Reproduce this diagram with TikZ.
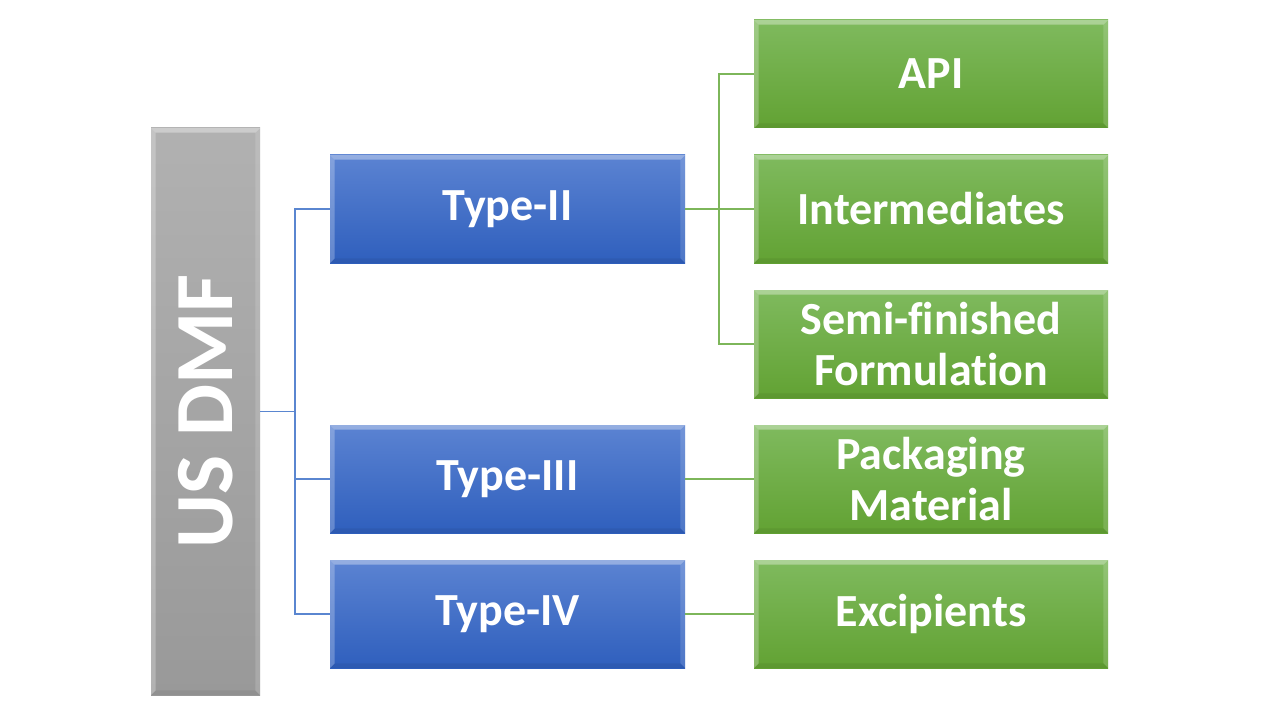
\documentclass[tikz,border=0pt]{standalone}
\usepackage{fontspec}
\newfontfamily\calfont{Carlito}[Ligatures={NoCommon,NoRare,NoContextual}]
\newcommand{\brk}{\kern0pt }
\begin{document}
\begin{tikzpicture}[x=0.75pt,y=-0.75pt,
  bevel/.style={path picture={
    \fill[white,opacity=0.35] (path picture bounding box.north west) -- (path picture bounding box.north east)
      -- ([shift={(-3.5pt,-3.5pt)}]path picture bounding box.north east) -- ([shift={(3.5pt,-3.5pt)}]path picture bounding box.north west) -- cycle;
    \fill[white,opacity=0.25] (path picture bounding box.north west) -- ([shift={(3.5pt,-3.5pt)}]path picture bounding box.north west)
      -- ([shift={(3.5pt,3.5pt)}]path picture bounding box.south west) -- (path picture bounding box.south west) -- cycle;
    \fill[white,opacity=0.15] (path picture bounding box.north east) -- ([shift={(-3.5pt,-3.5pt)}]path picture bounding box.north east)
      -- ([shift={(-3.5pt,3.5pt)}]path picture bounding box.south east) -- (path picture bounding box.south east) -- cycle;
    \fill[black,opacity=0.06] (path picture bounding box.south west) -- (path picture bounding box.south east)
      -- ([shift={(-3.5pt,3.5pt)}]path picture bounding box.south east) -- ([shift={(3.5pt,3.5pt)}]path picture bounding box.south west) -- cycle;
  }},
  boxbase/.style={rectangle, inner sep=0pt, text=white, align=center, bevel,
    font=\calfont\bfseries\fontsize{34.5}{38.5}\selectfont},
  bluebox/.style={boxbase, minimum width=266.25pt, minimum height=81pt,
    top color=bluetop, bottom color=bluebot},
  greenbox/.style={boxbase, minimum width=265.5pt, minimum height=81pt,
    top color=greentop, bottom color=greenbot},
  graybox/.style={boxbase, minimum width=81.75pt, minimum height=425.25pt,
    top color=graytop, bottom color=graybot},
  blueline/.style={draw=blueln, line width=1pt},
  greenline/.style={draw=greenln, line width=1pt}
]
\definecolor{bluetop}{HTML}{5B83D2}
\definecolor{bluebot}{HTML}{2F5FBD}
\definecolor{greentop}{HTML}{7FBA5E}
\definecolor{greenbot}{HTML}{62A233}
\definecolor{graytop}{HTML}{B1B1B1}
\definecolor{graybot}{HTML}{999999}
\definecolor{blueln}{HTML}{5A86D0}
\definecolor{greenln}{HTML}{7DB65A}
\useasboundingbox[fill=white] (0,0) rectangle (1280,720);

\node[graybox] (dmf) at (205.5,411.5) {};
\node[rotate=90, text=white, font=\calfont\bfseries\fontsize{62}{70}\selectfont, inner sep=0pt] (dmflabel) at (205.5,411.5) {US DMF};

\node[bluebox] (t2) at (507.5,209) {Type-II};
\node[bluebox] (t3) at (507.5,479) {Type-III};
\node[bluebox] (t4) at (507.5,614) {Type-IV};

\node[greenbox] (api) at (931,74) {API};
\node[greenbox] (int) at (931,209) {Intermediates};
\node[greenbox] (semi) at (931,344) {Semi-f\brk i\brk nished\\Formulat\brk ion};
\node[greenbox] (pack) at (931,479) {Packaging\\Material};
\node[greenbox] (exc) at (931,614) {Excipients};

\coordinate (j1) at (295,411.5);
\coordinate (j2) at (719,209);
\draw[blueline] (dmf.east) -- (j1);
\draw[blueline] (j1) |- (t2.west);
\draw[blueline] (j1) |- (t3.west);
\draw[blueline] (j1) |- (t4.west);

\draw[greenline] (t2.east) -- (j2);
\draw[greenline] (j2) |- (api.west);
\draw[greenline] (j2) -- (int.west);
\draw[greenline] (j2) |- (semi.west);
\draw[greenline] (t3.east) -- (pack.west);
\draw[greenline] (t4.east) -- (exc.west);
\end{tikzpicture}
\end{document}
